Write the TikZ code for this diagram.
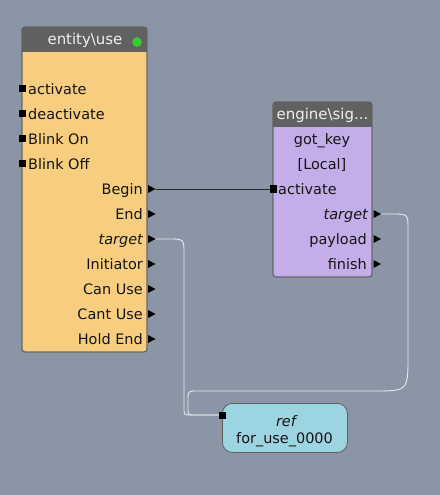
\documentclass[tikz,border=0pt]{standalone}
\usepackage{fontspec}
\setmainfont{DejaVu Sans}
\definecolor{bg}{HTML}{8A95A6}
\definecolor{entfill}{HTML}{F7CE80}
\definecolor{engfill}{HTML}{C5ADEA}
\definecolor{reffill}{HTML}{9DD4E2}
\definecolor{hdr}{HTML}{616161}
\definecolor{bordercol}{HTML}{5E5E5E}
\definecolor{wirecol}{HTML}{E6EBEE}
\definecolor{dotgreen}{HTML}{33D02F}
\definecolor{txt}{HTML}{141414}
\tikzset{
  box/.style={draw=bordercol, line width=0.8bp, rounded corners=3bp, inner sep=0, outer sep=0, anchor=north west},
  lbl/.style={font=\fontsize{14.5}{16}\selectfont, text=txt, inner sep=0},
  hlbl/.style={font=\fontsize{15}{17}\selectfont, text=white!94!black, inner sep=0},
  inp/.style={fill=black, minimum size=7bp, inner sep=0, outer sep=0},
  wire/.style={draw=wirecol, line width=0.9bp},
  blackwire/.style={draw=black!85, line width=0.9bp},
}
\newcommand\outport[3]{\fill[black] (#2,#3-4) -- (#2+7.5,#3) -- (#2,#3+4) -- cycle; \coordinate (#1) at (#2+7.5,#3);}
\newcommand\boxheader[1]{%
  \begin{scope}
    \clip[rounded corners=3bp] (#1.north west) rectangle (#1.south east);
    \fill[hdr] (#1.north west) rectangle ([yshift=-25bp]#1.north east);
  \end{scope}
  \draw[draw=bordercol, line width=0.8bp, rounded corners=3bp] (#1.north west) rectangle (#1.south east);}
\begin{document}
\begin{tikzpicture}[x=1bp,y=-1bp]
\fill[bg] (0,0) rectangle (440,495);
\useasboundingbox (0,0) rectangle (440,495);

% entity box
\node[box, fill=entfill, minimum width=125bp, minimum height=325bp] (entity) at (22,27) {};
\boxheader{entity}
\node[hlbl, anchor=base] (enttitle) at (85,44.5) {entity\textbackslash use};
\fill[dotgreen] (137,42) circle (4.8);
\node[inp] (e-act) at (22.5,89) {};
\node[inp] (e-deact) at (22.5,114) {};
\node[inp] (e-bon) at (22.5,139) {};
\node[inp] (e-boff) at (22.5,164) {};
\node[lbl, anchor=base west] (l-act) at (28,94.5) {activate};
\node[lbl, anchor=base west] (l-deact) at (28,119.5) {deactivate};
\node[lbl, anchor=base west] (l-bon) at (28,144.5) {Blink On};
\node[lbl, anchor=base west] (l-boff) at (28,169.5) {Blink Off};
\node[lbl, anchor=base east] (l-begin) at (143,194.5) {Begin};
\node[lbl, anchor=base east] (l-end) at (143,219.5) {End};
\node[lbl, anchor=base east] (l-tgt) at (143,244.5) {\itshape target};
\node[lbl, anchor=base east] (l-init) at (143,269.5) {Initiator};
\node[lbl, anchor=base east] (l-can) at (143,294.5) {Can Use};
\node[lbl, anchor=base east] (l-cant) at (143,319.5) {Cant Use};
\node[lbl, anchor=base east] (l-hold) at (143,344.5) {Hold End};
\outport{o-begin}{148}{189}
\outport{o-end}{148}{214}
\outport{o-tgt}{148}{239}
\outport{o-init}{148}{264}
\outport{o-can}{148}{289}
\outport{o-cant}{148}{314}
\outport{o-hold}{148}{339}

% engine box
\node[box, fill=engfill, minimum width=99bp, minimum height=175bp] (engine) at (273,102) {};
\boxheader{engine}
\node[hlbl, anchor=base] (engtitle) at (322.5,119.5) {engine\textbackslash sig...};
\node[lbl, anchor=base] (l-key) at (322,144.5) {got\_key};
\node[lbl, anchor=base] (l-local) at (322,169.5) {[Local]};
\node[inp] (g-act) at (273,189) {};
\node[lbl, anchor=base west] (l-gact) at (278,194.5) {activate};
\node[lbl, anchor=base east] (l-gtgt) at (368,219.5) {\itshape target};
\node[lbl, anchor=base east] (l-pay) at (367,244.5) {payload};
\node[lbl, anchor=base east] (l-fin) at (367,269.5) {finish};
\outport{g-tgt}{373.5}{214}
\outport{g-pay}{373.5}{239}
\outport{g-fin}{373.5}{264}

% ref box
\node[draw=bordercol, line width=0.8bp, fill=reffill, rounded corners=10bp, minimum width=125bp, minimum height=49bp, inner sep=0, anchor=north west] (ref) at (222,403) {};
\node[lbl, anchor=base] (l-ref) at (286,426) {\itshape ref};
\node[lbl, anchor=base] (l-fu) at (284.5,443.5) {for\_use\_0000};

% connectors
\draw[blackwire] (o-begin) -- (g-act.west);
\draw[wire] (o-tgt) -- (169,239) .. controls (184,239) .. (184,254) -- (184,408) .. controls (184,415) .. (191,415) -- (219,415);
\draw[wire] (g-tgt) -- (392,214) .. controls (408,214) .. (408,230) -- (408,356) .. controls (408,391) .. (373,391) -- (197,391) .. controls (188,391) .. (188,400) -- (188,409) .. controls (188,415) .. (194,415) -- (219,415);
\node[inp] (r-in) at (222.5,415) {};
\end{tikzpicture}
\end{document}
